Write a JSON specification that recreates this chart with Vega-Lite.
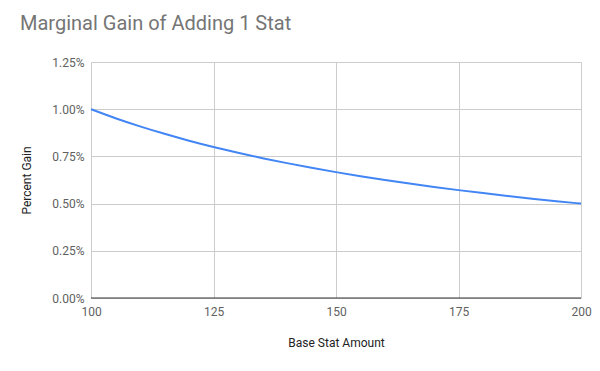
{
  "$schema": "https://vega.github.io/schema/vega-lite/v6.json",
  "autosize": "none",
  "width": 490,
  "height": 236,
  "padding": {"left": 91, "top": 62, "right": 19, "bottom": 73},
  "background": "white",
  "title": {
    "text": "Marginal Gain of Adding 1 Stat",
    "anchor": "start",
    "frame": "group",
    "dx": -71,
    "offset": 22,
    "font": "Roboto",
    "fontSize": 20,
    "fontWeight": "normal",
    "color": "#757575"
  },
  "config": {
    "view": {"stroke": null},
    "font": "Roboto"
  },
  "data": {
    "values": [
      {"base": 100, "gain": 0.01},
      {"base": 105, "gain": 0.009524},
      {"base": 110, "gain": 0.009091},
      {"base": 115, "gain": 0.008696},
      {"base": 120, "gain": 0.008333},
      {"base": 125, "gain": 0.008},
      {"base": 130, "gain": 0.007692},
      {"base": 135, "gain": 0.007407},
      {"base": 140, "gain": 0.007143},
      {"base": 145, "gain": 0.006897},
      {"base": 150, "gain": 0.006667},
      {"base": 155, "gain": 0.006452},
      {"base": 160, "gain": 0.00625},
      {"base": 165, "gain": 0.006061},
      {"base": 170, "gain": 0.005882},
      {"base": 175, "gain": 0.005714},
      {"base": 180, "gain": 0.005556},
      {"base": 185, "gain": 0.005405},
      {"base": 190, "gain": 0.005263},
      {"base": 195, "gain": 0.005128},
      {"base": 200, "gain": 0.005}
    ]
  },
  "layer": [
    {
      "mark": {"type": "rule", "color": "#333333", "strokeWidth": 1},
      "data": {"values": [{"z": 0}]},
      "encoding": {"y": {"field": "z", "type": "quantitative", "scale": {"domain": [0, 0.0125]}}}
    },
    {
      "mark": {"type": "line", "color": "#4285F4", "strokeWidth": 2, "interpolate": "monotone"},
      "encoding": {
        "x": {
          "field": "base",
          "type": "quantitative",
          "scale": {"domain": [100, 200], "nice": false, "zero": false},
          "axis": {
            "title": "Base Stat Amount",
            "values": [100, 125, 150, 175, 200],
            "grid": true,
            "gridColor": "#cccccc",
            "domain": false,
            "ticks": false,
            "labelPadding": 8,
            "labelFontSize": 12,
            "labelColor": "#616161",
            "labelAlign": "center",
            "labelBound": false,
            "labelFlush": false,
            "labelOverlap": false,
            "titleFontSize": 12,
            "titleFontWeight": "normal",
            "titleColor": "#222222",
            "titlePadding": 20
          }
        },
        "y": {
          "field": "gain",
          "type": "quantitative",
          "scale": {"domain": [0, 0.0125], "nice": false},
          "axis": {
            "title": "Percent Gain",
            "format": ".2%",
            "values": [0, 0.0025, 0.005, 0.0075, 0.01, 0.0125],
            "grid": true,
            "gridColor": "#cccccc",
            "domain": false,
            "ticks": false,
            "labelPadding": 7,
            "labelFontSize": 12,
            "labelColor": "#616161",
            "titleFontSize": 12,
            "titleFontWeight": "normal",
            "titleColor": "#222222",
            "titlePadding": 18
          }
        }
      }
    }
  ]
}
